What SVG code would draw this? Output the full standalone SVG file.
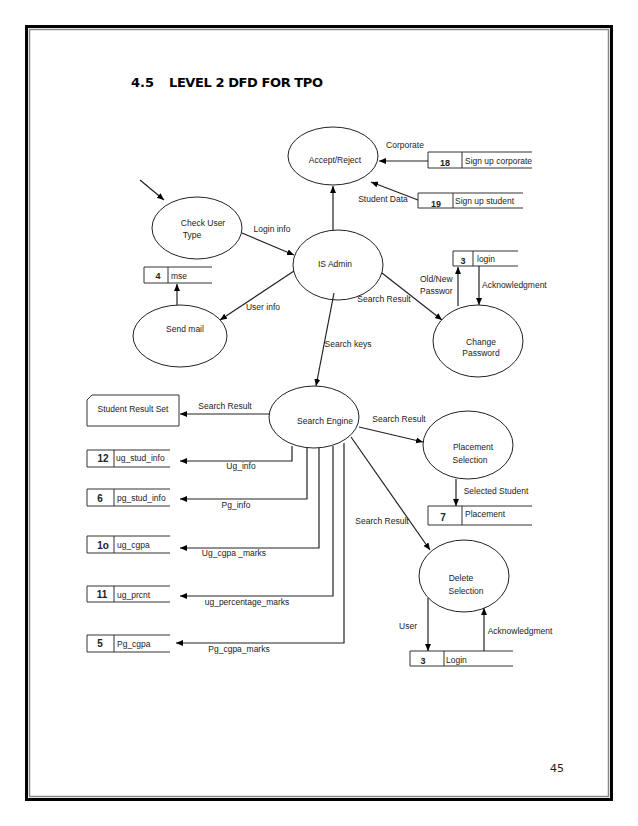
<svg xmlns="http://www.w3.org/2000/svg" width="638" height="826" viewBox="0 0 638 826">
<defs>
<marker id="ah" markerWidth="8" markerHeight="8" refX="7" refY="4" orient="auto" markerUnits="userSpaceOnUse"><path d="M0,1 L7,4 L0,7 z" fill="#000"/></marker>
<style>
.p{fill:#fff;stroke:#222;stroke-width:1}
.s{fill:none;stroke:#333;stroke-width:1}
.c{fill:none;stroke:#222;stroke-width:1.2;marker-end:url(#ah)}
text{font-family:"Liberation Sans",Arial,sans-serif;font-size:8.5px;fill:#222}
.m{text-anchor:middle}
.b{font-weight:bold;font-size:10px}
.t{font-family:"DejaVu Sans",Verdana,sans-serif;font-size:13px;font-weight:bold;fill:#000}
</style>
</defs>
<rect width="638" height="826" fill="#fff"/>
<rect x="26.5" y="26.5" width="585" height="773" fill="none" stroke="#000" stroke-width="3"/>
<rect x="29.5" y="29.5" width="579" height="767" fill="none" stroke="#888" stroke-width="1.5"/>
<text x="131" y="87" class="t">4.5</text>
<text x="169" y="87" class="t" textLength="154">LEVEL 2 DFD FOR TPO</text>
<text x="557" y="772" class="m" style="font-family:'DejaVu Sans',Verdana,sans-serif;font-size:11px">45</text>

<g id="accept"><ellipse class="p" cx="333" cy="156" rx="45" ry="29"/><text x="335" y="163" class="m">Accept/Reject</text></g>
<g id="checkuser"><ellipse class="p" cx="197" cy="228" rx="45" ry="31"/><text x="203" y="226" class="m">Check User</text><text x="192" y="238" class="m">Type</text></g>
<g id="isadmin"><ellipse class="p" cx="338" cy="265" rx="45" ry="35"/><text x="335" y="267" class="m">IS Admin</text></g>
<g id="sendmail"><ellipse class="p" cx="180" cy="336" rx="47" ry="31"/><text x="185" y="332" class="m">Send mail</text></g>
<g id="changepw"><ellipse class="p" cx="478" cy="341" rx="45" ry="36"/><text x="481" y="345" class="m">Change</text><text x="481" y="356" class="m">Password</text></g>
<g id="searchengine"><ellipse class="p" cx="314" cy="417" rx="45" ry="31"/><text x="325" y="424" class="m">Search Engine</text></g>
<g id="placement"><ellipse class="p" cx="468" cy="445" rx="45" ry="34"/><text x="473" y="450" class="m">Placement</text><text x="470" y="463" class="m">Selection</text></g>
<g id="delete"><ellipse class="p" cx="464" cy="576" rx="45" ry="36"/><text x="461" y="581" class="m">Delete</text><text x="466" y="594" class="m">Selection</text></g>

<g id="store18"><path class="s" d="M532,152 H428 V168 H532 M462,152 V168"/><text x="445" y="166" class="m b" style="font-size:9px">18</text><text x="465" y="164">Sign up corporate</text></g>
<g id="store19"><path class="s" d="M523,193 H418 V208 H523 M453,193 V208"/><text x="436" y="207" class="m b" style="font-size:9px">19</text><text x="455" y="204">Sign up student</text></g>
<g id="store4"><path class="s" d="M212,267 H144 V283 H212 M168,267 V283"/><text x="158" y="279" class="m b" style="font-size:9px">4</text><text x="171" y="279">mse</text></g>
<g id="store3a"><path class="s" d="M518,251 H453 V266 H518 M473,251 V266"/><text x="463" y="264" class="m b" style="font-size:9px">3</text><text x="477" y="262">login</text></g>
<g id="resultset"><path class="s" d="M92,395 H179 V426 H87 V400 Z"/><text x="133" y="412" class="m">Student Result Set</text></g>
<g id="store12"><path class="s" d="M170,450 H87 V467 H170 M114,450 V467"/><text x="103" y="462" class="m b">12</text><text x="116" y="461">ug_stud_info</text></g>
<g id="store6"><path class="s" d="M170,489 H87 V506 H170 M114,489 V506"/><text x="100" y="502" class="m b">6</text><text x="117" y="501">pg_stud_info</text></g>
<g id="store10"><path class="s" d="M170,536 H87 V553 H170 M114,536 V553"/><text x="103" y="549" class="m b">1o</text><text x="117" y="548">ug_cgpa</text></g>
<g id="store11"><path class="s" d="M170,586 H87 V602 H170 M114,586 V602"/><text x="102" y="598" class="m b">11</text><text x="117" y="598">ug_prcnt</text></g>
<g id="store5"><path class="s" d="M170,635 H87 V652 H170 M114,635 V652"/><text x="100" y="647" class="m b">5</text><text x="117" y="647">Pg_cgpa</text></g>
<g id="store7"><path class="s" d="M532,506 H428 V525 H532 M462,506 V525"/><text x="443" y="521" class="m b">7</text><text x="465" y="517">Placement</text></g>
<g id="store3b"><path class="s" d="M513,651 H410 V666 H513 M444,651 V666"/><text x="423" y="664" class="m b" style="font-size:9px">3</text><text x="446" y="663">Login</text></g>

<g id="connectors">
<line class="c" x1="140" y1="180" x2="164" y2="200"/>
<line class="c" x1="428" y1="161" x2="379" y2="161"/>
<line class="c" x1="418" y1="200" x2="371" y2="182"/>
<line class="c" x1="333" y1="230" x2="333" y2="186"/>
<line class="c" x1="242" y1="233" x2="294" y2="255"/>
<line class="c" x1="294" y1="271" x2="220" y2="320"/>
<line class="c" x1="177" y1="305" x2="177" y2="284"/>
<line class="c" x1="382" y1="273" x2="442" y2="320"/>
<line class="c" x1="458" y1="306" x2="458" y2="267"/>
<line class="c" x1="479" y1="266" x2="479" y2="305"/>
<line class="c" x1="334" y1="293" x2="316" y2="386"/>
<line class="c" x1="269" y1="414" x2="180" y2="414"/>
<polyline class="c" points="292,446 292,461 180,461"/>
<polyline class="c" points="307,447 307,499 180,499"/>
<polyline class="c" points="319,448 319,548 180,548"/>
<polyline class="c" points="333,446 333,596 180,596"/>
<polyline class="c" points="344,443 344,643 176,643"/>
<line class="c" x1="359" y1="427" x2="423" y2="442"/>
<line class="c" x1="456" y1="479" x2="456" y2="506"/>
<line class="c" x1="351" y1="437" x2="430" y2="550"/>
<line class="c" x1="428" y1="598" x2="428" y2="651"/>
<line class="c" x1="484" y1="651" x2="484" y2="608"/>
<text x="405" y="148" class="m">Corporate</text>
<text x="383" y="202" class="m">Student Data</text>
<text x="272" y="232" class="m">Login info</text>
<text x="263" y="310" class="m">User info</text>
<text x="420" y="282">Old/New</text>
<text x="420" y="294">Passwor</text>
<text x="482" y="288">Acknowledgment</text>
<text x="384" y="302" class="m">Search Result</text>
<text x="348" y="347" class="m">Search keys</text>
<text x="225" y="409" class="m">Search Result</text>
<text x="241" y="469" class="m">Ug_info</text>
<text x="236" y="508" class="m">Pg_info</text>
<text x="234" y="556" class="m">Ug_cgpa _marks</text>
<text x="247" y="605" class="m">ug_percentage_marks</text>
<text x="239" y="652" class="m">Pg_cgpa_marks</text>
<text x="399" y="422" class="m">Search Result</text>
<text x="496" y="494" class="m">Selected Student</text>
<text x="382" y="524" class="m">Search Result</text>
<text x="408" y="629" class="m">User</text>
<text x="520" y="634" class="m">Acknowledgment</text>
</g>
</svg>
